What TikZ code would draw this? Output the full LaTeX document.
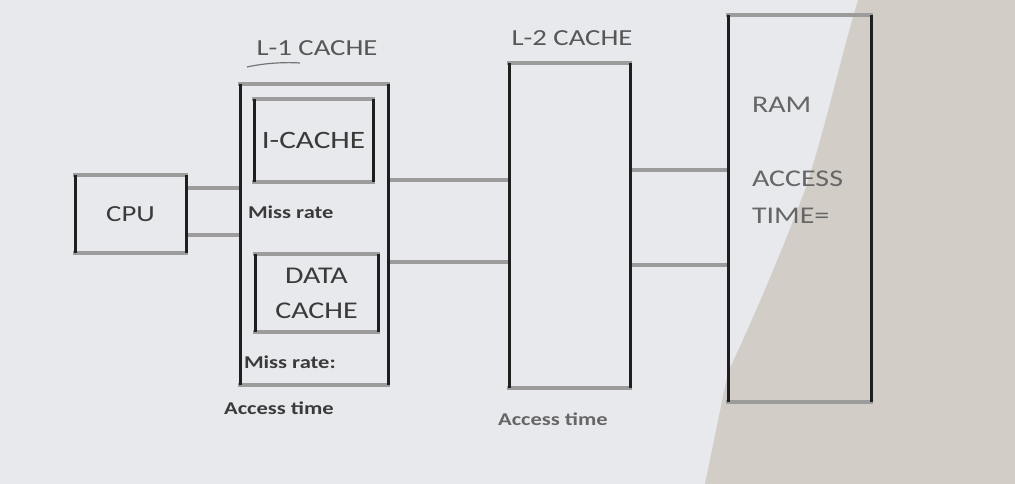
\documentclass[tikz,border=0pt]{standalone}
\usepackage{fontspec}
\setmainfont{Carlito}[FakeStretch=1.25]
\definecolor{bg}{HTML}{E8E9EC}
\definecolor{shadecol}{HTML}{D2CDC7}
\definecolor{hgray}{HTML}{9C9C9C}
\definecolor{vblack}{HTML}{1F1F1F}
\definecolor{txt}{HTML}{3A3A3A}
\definecolor{txtlight}{HTML}{666666}
\newcommand\sidesof[1]{%
  \draw[hline] ([xshift=-2pt]#1.north west) -- ([xshift=2pt]#1.north east);
  \draw[hline] ([xshift=-2pt]#1.south west) -- ([xshift=2pt]#1.south east);
  \draw[vline] (#1.north west) -- (#1.south west);
  \draw[vline] (#1.north east) -- (#1.south east);}
\begin{document}
\begin{tikzpicture}[x=1pt,y=-1pt,
  hline/.style={draw=hgray, line width=4.5pt},
  vline/.style={draw=vblack, line width=3pt},
  link/.style={draw=hgray, line width=4.5pt},
  blk/.style={inner sep=0pt, outer sep=0pt, text=txt},
  lbl/.style={inner sep=0pt, outer sep=0pt, text=txt},
  big/.style={font=\fontsize{23}{26}\selectfont},
  small/.style={font=\bfseries\fontsize{18}{20}\selectfont}]
\fill[bg] (0,0) rectangle (1015,484);
\fill[shadecol] (858,0) -- (1015,0) -- (1015,484) -- (705,484) -- (728,372)
  .. controls (760,305) and (790,230) .. (805,190)
  .. controls (825,130) and (840,60) .. (858,0) -- cycle;
\useasboundingbox (0,0) rectangle (1015,484);

% boxes
\node[blk, big, minimum width=111pt, minimum height=78pt] (cpu) at (130.5,214) {CPU};
\node[blk, minimum width=148pt, minimum height=301pt] (l1) at (314,234.5) {};
\node[blk, big, font=\fontsize{25}{28}\selectfont, minimum width=119pt, minimum height=83pt] (icache) at (313.5,140.5) {I-CACHE};
\node[blk, big, font=\fontsize{24}{35}\selectfont, align=center, minimum width=123pt, minimum height=78pt] (dcache) at (316.5,293) {DATA\\CACHE};
\node[blk, minimum width=121pt, minimum height=325pt] (l2) at (569.5,225.5) {};
\node[blk, minimum width=143pt, minimum height=387pt] (ram) at (799.5,208.5) {};

% connectors
\draw[link] (cpu.east |- 0,188) -- (l1.west |- 0,188);
\draw[link] (cpu.east |- 0,235) -- (l1.west |- 0,235);
\draw[link] (l1.east |- 0,180) -- (l2.west |- 0,180);
\draw[link] (l1.east |- 0,262) -- (l2.west |- 0,262);
\draw[link] (l2.east |- 0,170) -- (ram.west |- 0,170);
\draw[link] (l2.east |- 0,265) -- (ram.west |- 0,265);

\sidesof{cpu}
\sidesof{l1}
\sidesof{icache}
\sidesof{dcache}
\sidesof{l2}
\sidesof{ram}

% labels
\node[lbl, big, text=txt!85] (l1t) at (317,48) {L-1 CACHE};
\draw[txt!70, line width=1.2pt] (247,67) .. controls (265,63) and (285,62) .. (300,63);
\node[lbl, big, text=txt!85] (l2t) at (572,38) {L-2 CACHE};
\node[lbl, small, anchor=west] (mr1) at (248,212) {Miss rate};
\node[lbl, small, anchor=west] (mr2) at (244,362) {Miss rate:};
\node[lbl, small] (at1) at (279,408) {Access time};
\node[lbl, small, text=txtlight] (at2) at (553,419) {Access time};
\node[lbl, big, font=\fontsize{24}{26}\selectfont, text=txtlight, anchor=west] (ramt) at (752,105) {RAM};
\node[lbl, big, font=\fontsize{24}{26}\selectfont, text=txtlight, anchor=west] (acc) at (752,179) {ACCESS};
\node[lbl, big, font=\fontsize{24}{26}\selectfont, text=txtlight, anchor=west] (tim) at (752,216) {TIME=};
\end{tikzpicture}
\end{document}
